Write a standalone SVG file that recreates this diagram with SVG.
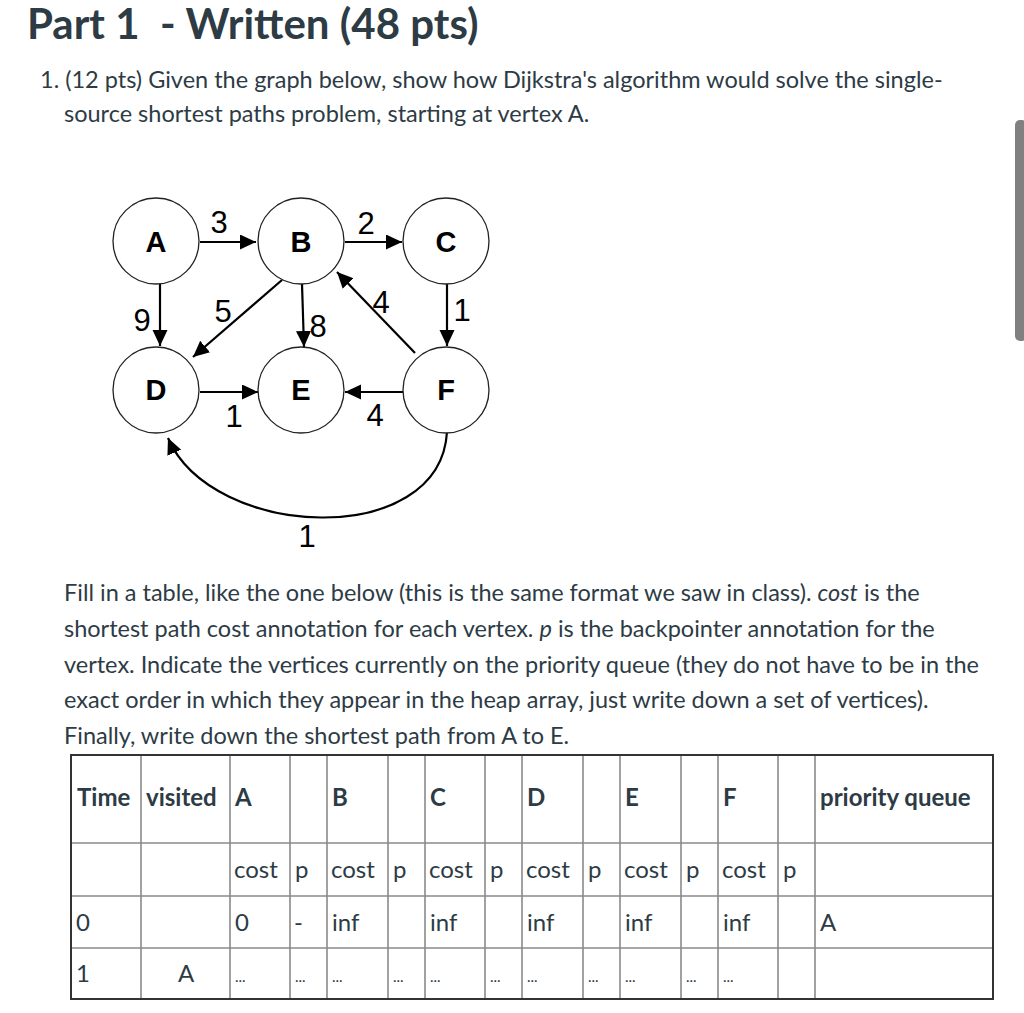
<svg xmlns="http://www.w3.org/2000/svg" width="1024" height="1013" viewBox="0 0 1024 1013">
<style>
.t{font-family:Lato,"Open Sans","Liberation Sans",sans-serif;fill:#2d3b45;font-size:23.5px}
.tb{font-family:Lato,"Open Sans","Liberation Sans",sans-serif;fill:#2d3b45;font-size:24px}
.b{font-weight:bold}
.nd{fill:#fff;stroke:#222;stroke-width:1.3}
.nl{font-family:"Liberation Sans",Arial,sans-serif;font-weight:bold;font-size:29px;fill:#000;text-anchor:middle}
.el{font-family:"Liberation Sans",Arial,sans-serif;font-size:31px;fill:#000;text-anchor:middle}
.ed{fill:none;stroke:#000;stroke-width:2.2}
.gl{stroke:#8a8a8a;stroke-width:1.6}
.dots{font-family:Lato,"Liberation Sans",sans-serif;font-size:15px;fill:#2d3b45}
</style>
<defs>
<marker id="ah" markerUnits="userSpaceOnUse" markerWidth="18" markerHeight="16" refX="16" refY="7.5" orient="auto">
<path d="M0,0 L16,7.5 L0,15 Z" fill="#000"/>
</marker>
</defs>
<rect width="1024" height="1013" fill="#fff"/>
<text class="t b" x="27" y="39" style="font-size:42px" xml:space="preserve">Part 1  - Written (48 pts)</text>
<text class="t" x="40" y="88">1. (12 pts) Given the graph below, show how Dijkstra's algorithm would solve the single-</text>
<text class="t" x="64" y="122">source shortest paths problem, starting at vertex A.</text>
<rect x="1015" y="120" width="12" height="221" rx="5" fill="#808080"/>

<g id="connectors">
<path class="ed" d="M200,242 L256,242" marker-end="url(#ah)"/>
<path class="ed" d="M345,242 L402,242" marker-end="url(#ah)"/>
<path class="ed" d="M160,284 L160,346" marker-end="url(#ah)"/>
<path class="ed" d="M282,280 L193,357" marker-end="url(#ah)"/>
<path class="ed" d="M302,284 L304,347" marker-end="url(#ah)"/>
<path class="ed" d="M415,353 L337,272" marker-end="url(#ah)"/>
<path class="ed" d="M447,284 L447,346" marker-end="url(#ah)"/>
<path class="ed" d="M200,392 L258,392" marker-end="url(#ah)"/>
<path class="ed" d="M403,392 L345,392" marker-end="url(#ah)"/>
<path class="ed" d="M447,432 C440,550 212,540 168,438" marker-end="url(#ah)"/>
<text class="el" x="219" y="233">3</text>
<text class="el" x="366" y="234">2</text>
<text class="el" x="142" y="331">9</text>
<text class="el" x="223" y="322">5</text>
<text class="el" x="318" y="337">8</text>
<text class="el" x="381" y="313">4</text>
<text class="el" x="462" y="321">1</text>
<text class="el" x="234" y="427">1</text>
<text class="el" x="375" y="426">4</text>
<text class="el" x="307" y="547">1</text>
</g>

<g id="node-A"><circle class="nd" cx="156" cy="241" r="43"/><text class="nl" x="156" y="252">A</text></g>
<g id="node-B"><circle class="nd" cx="301" cy="241" r="43"/><text class="nl" x="301" y="252">B</text></g>
<g id="node-C"><circle class="nd" cx="446" cy="241" r="43"/><text class="nl" x="446" y="252">C</text></g>
<g id="node-D"><circle class="nd" cx="156" cy="390" r="43"/><text class="nl" x="156" y="400">D</text></g>
<g id="node-E"><circle class="nd" cx="301" cy="390" r="43"/><text class="nl" x="301" y="400">E</text></g>
<g id="node-F"><circle class="nd" cx="446" cy="390" r="43"/><text class="nl" x="446" y="400">F</text></g>

<text class="t" x="64" y="601">Fill in a table, like the one below (this is the same format we saw in class). <tspan font-style="italic">cost</tspan> is the</text>
<text class="t" x="64" y="637">shortest path cost annotation for each vertex. <tspan font-style="italic">p</tspan> is the backpointer annotation for the</text>
<text class="t" x="64" y="673">vertex. Indicate the vertices currently on the priority queue (they do not have to be in the</text>
<text class="t" x="64" y="708">exact order in which they appear in the heap array, just write down a set of vertices).</text>
<text class="t" x="64" y="744">Finally, write down the shortest path from A to E.</text>

<g id="table">
<g class="gl">
<line x1="71" y1="843" x2="993" y2="843"/>
<line x1="71" y1="896" x2="993" y2="896"/>
<line x1="71" y1="948" x2="993" y2="948"/>
<line x1="141" y1="755" x2="141" y2="999"/>
<line x1="230" y1="755" x2="230" y2="999"/>
<line x1="290" y1="755" x2="290" y2="999"/>
<line x1="327" y1="755" x2="327" y2="999"/>
<line x1="388" y1="755" x2="388" y2="999"/>
<line x1="425" y1="755" x2="425" y2="999"/>
<line x1="485" y1="755" x2="485" y2="999"/>
<line x1="522" y1="755" x2="522" y2="999"/>
<line x1="583" y1="755" x2="583" y2="999"/>
<line x1="620" y1="755" x2="620" y2="999"/>
<line x1="681" y1="755" x2="681" y2="999"/>
<line x1="718" y1="755" x2="718" y2="999"/>
<line x1="778" y1="755" x2="778" y2="999"/>
<line x1="815" y1="755" x2="815" y2="999"/>
</g>
<rect x="71" y="755" width="922" height="244" fill="none" stroke="#333" stroke-width="2"/>
<text class="tb b" x="77" y="806">Time</text>
<text class="tb b" x="146" y="806">visited</text>
<text class="tb b" x="235" y="806">A</text>
<text class="tb b" x="332" y="806">B</text>
<text class="tb b" x="430" y="806">C</text>
<text class="tb b" x="527" y="806">D</text>
<text class="tb b" x="625" y="806">E</text>
<text class="tb b" x="723" y="806">F</text>
<text class="tb b" x="820" y="806">priority queue</text>
<text class="tb" x="234" y="878">cost</text><text class="tb" x="295" y="878">p</text>
<text class="tb" x="331" y="878">cost</text><text class="tb" x="393" y="878">p</text>
<text class="tb" x="429" y="878">cost</text><text class="tb" x="490" y="878">p</text>
<text class="tb" x="526" y="878">cost</text><text class="tb" x="588" y="878">p</text>
<text class="tb" x="624" y="878">cost</text><text class="tb" x="686" y="878">p</text>
<text class="tb" x="722" y="878">cost</text><text class="tb" x="783" y="878">p</text>
<text class="tb" x="76" y="931">0</text>
<text class="tb" x="235" y="931">0</text>
<text class="tb" x="294" y="931">-</text>
<text class="tb" x="332" y="931">inf</text>
<text class="tb" x="430" y="931">inf</text>
<text class="tb" x="527" y="931">inf</text>
<text class="tb" x="625" y="931">inf</text>
<text class="tb" x="723" y="931">inf</text>
<text class="tb" x="820" y="931">A</text>
<text class="tb" x="76" y="982">1</text>
<text class="tb" x="186" y="982" text-anchor="middle">A</text>
<text class="dots" x="235" y="982">...</text>
<text class="dots" x="295" y="982">...</text>
<text class="dots" x="332" y="982">...</text>
<text class="dots" x="393" y="982">...</text>
<text class="dots" x="430" y="982">...</text>
<text class="dots" x="490" y="982">...</text>
<text class="dots" x="527" y="982">...</text>
<text class="dots" x="588" y="982">...</text>
<text class="dots" x="625" y="982">...</text>
<text class="dots" x="686" y="982">...</text>
<text class="dots" x="723" y="982">...</text>
</g>
</svg>
